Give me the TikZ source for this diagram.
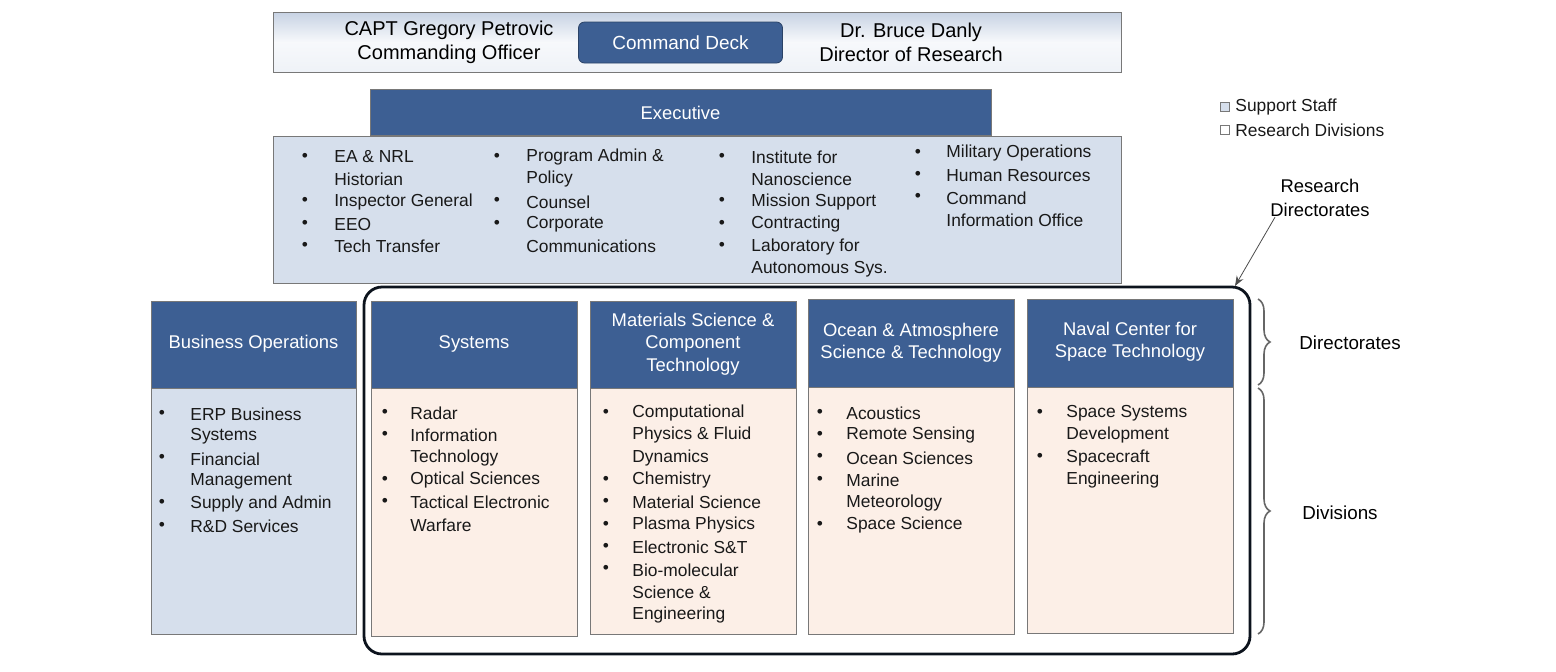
\documentclass[tikz,border=0pt]{standalone}
\usepackage{fontspec}
\setmainfont{Liberation Sans}
\usetikzlibrary{decorations.pathreplacing,arrows.meta}
\definecolor{dkb}{RGB}{61,95,147}
\definecolor{ltb}{RGB}{214,223,236}
\definecolor{pch}{RGB}{252,239,231}
\definecolor{brd}{RGB}{120,120,120}
\tikzset{
 txt/.style={inner sep=0pt,font=\fontsize{8.7}{11}\selectfont,text=black!90},
 hdr/.style={draw=brd,fill=dkb},
 body/.style={draw=brd,fill=pch},
 sbody/.style={draw=brd,fill=ltb},
 htxt/.style={inner sep=0pt,text=white,font=\fontsize{9.2}{11.25}\selectfont,align=center},
 brc/.style={decorate,decoration={brace,amplitude=6pt},draw=black!60,thick}
}
\newcommand\blist[5]{%
 \foreach \b/\t [count=\i] in {#5}{%
  \node[txt,anchor=west] (#1\i) at (#3,{#4+(\i-1)*22.4}) {\t};
  \ifnum\b=1 \node[txt] (#1b\i) at (#2,{#4+(\i-1)*22.4}) {\textbullet};\fi
 }}
\begin{document}
\begin{tikzpicture}[x=0.5pt,y=-0.5pt]
\useasboundingbox (0,0) rectangle (1556,671);
% top
\path[draw=brd,top color=ltb!90!dkb,bottom color=ltb!40,middle color=white!80!ltb] (273,12) rectangle (1121,72);
\node[draw=dkb!70!black,fill=dkb,rounded corners=3pt,minimum width=102pt,minimum height=20.5pt,text=white,font=\fontsize{9.5}{11}\selectfont] (deck) at (680.5,42.5) {Command Deck};
\node[inner sep=0pt,align=center,font=\fontsize{10}{12}\selectfont] (co) at (449,42) {CAPT Gregory Petrovic\\Commanding Officer};
\node[inner sep=0pt,align=center,font=\fontsize{10}{12}\selectfont] (dr) at (911,42) {Dr. Bruce Danly\\Director of Research};
% executive
\path[hdr] (370,89) rectangle (991,135);
\node[htxt] (exec) at (680.5,113) {Executive};
\path[sbody] (273,136) rectangle (1121,283);
\blist{ea}{305}{334}{157}{1/EA \& NRL,0/Historian,1/Inspector General,1/EEO,1/Tech Transfer}
\blist{pa}{497}{526}{157}{1/Program Admin \&,0/Policy,1/Counsel,1/Corporate,0/Communications}
\blist{in}{722}{751}{157}{1/Institute for,0/Nanoscience,1/Mission Support,1/Contracting,1/Laboratory for,0/Autonomous Sys.}
\blist{mo}{918}{946}{153}{1/Military Operations,1/Human Resources,1/Command,0/Information Office}
% legend
\node[draw=brd,fill=ltb,minimum size=4.5pt,inner sep=0pt] (lg1) at (1225,107) {};
\node[txt,anchor=west] (lg1t) at (1235,107) {Support Staff};
\node[draw=brd,fill=white,minimum size=4.5pt,inner sep=0pt] (lg2) at (1225,130) {};
\node[txt,anchor=west] (lg2t) at (1235,130) {Research Divisions};
% research directorates frame
\draw[line width=1.4pt,draw=black!80!dkb,rounded corners=9pt] (364,287) rectangle (1250,654);
\node[inner sep=0pt,align=center,font=\fontsize{9.2}{12}\selectfont] (rd) at (1320,198) {Research\\Directorates};
\coordinate (rdtip) at (1235,286);
\draw[-{Stealth[length=5pt]},black!70] (rd.south west)++(5,0) -- (rdtip);
% business ops
\path[hdr] (151,301) rectangle (356,388); \path[sbody] (151,388) rectangle (356,634);
\node[htxt] (bo) at (253.5,344) {Business Operations};
\blist{b}{162}{190}{414}{1/ERP Business,0/Systems,1/Financial,0/Management,1/Supply and Admin,1/R\&D Services}
% systems
\path[hdr] (371,301) rectangle (577,388); \path[body] (371,388) rectangle (577,636);
\node[htxt] (sy) at (474,344) {Systems};
\blist{s}{385}{410}{413}{1/Radar,1/Information,0/Technology,1/Optical Sciences,1/Tactical Electronic,0/Warfare}
% materials
\path[hdr] (590,301) rectangle (796,388); \path[body] (590,388) rectangle (796,634);
\node[htxt] (ms) at (693,344) {Materials Science \&\\Component\\Technology};
\blist{m}{606}{632}{413}{1/Computational,0/Physics \& Fluid,0/Dynamics,1/Chemistry,1/Material Science,1/Plasma Physics,1/Electronic S\&T,1/Bio-molecular,0/Science \&,0/Engineering}
% ocean
\path[hdr] (808,299) rectangle (1014,387); \path[body] (808,387) rectangle (1014,634);
\node[htxt] (oa) at (911,342.5) {Ocean \& Atmosphere\\Science \& Technology};
\blist{o}{820}{846}{413}{1/Acoustics,1/Remote Sensing,1/Ocean Sciences,1/Marine,0/Meteorology,1/Space Science}
% naval
\path[hdr] (1027,299) rectangle (1233,387); \path[body] (1027,387) rectangle (1233,633);
\node[htxt] (nc) at (1130,341.5) {Naval Center for\\Space Technology};
\blist{n}{1040}{1066}{413}{1/Space Systems,0/Development,1/Spacecraft,0/Engineering}
% braces
\draw[brc] (1258,299) -- (1258,385);
\node[inner sep=0pt,anchor=west,font=\fontsize{9.4}{11}\selectfont] (dir) at (1299,343) {Directorates};
\draw[brc] (1258,388) -- (1258,634);
\node[inner sep=0pt,anchor=west,font=\fontsize{9.4}{11}\selectfont] (div) at (1302,513) {Divisions};
\end{tikzpicture}
\end{document}
